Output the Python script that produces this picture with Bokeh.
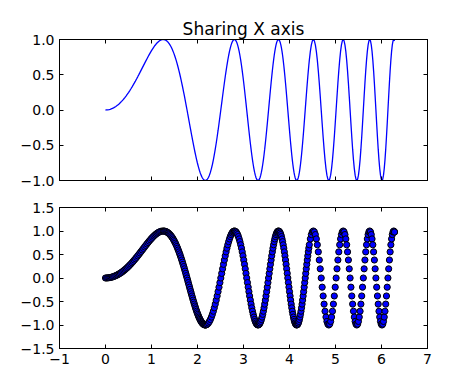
from bokeh.plotting import figure
from bokeh.models import Range1d, FixedTicker, LinearAxis, CustomJSTickFormatter
from bokeh.layouts import column
from bokeh.embed import file_html
from bokeh.resources import INLINE

title_text = "Sharing X axis"
x_ticks = [-1, 0, 1, 2, 3, 4, 5, 6, 7]
top_y_ticks = [-1.0, -0.5, 0.0, 0.5, 1.0]
bottom_y_ticks = [-1.5, -1.0, -0.5, 0.0, 0.5, 1.0, 1.5]

# values (a sin(x^2)-shaped curve), in stretches
x_slow = [
    0.0, 0.025, 0.05, 0.075, 0.10, 0.125, 0.15, 0.175, 0.20, 0.225, 0.25, 0.275,
    0.30, 0.325, 0.35, 0.375, 0.40, 0.425, 0.45, 0.475, 0.50, 0.525, 0.55, 0.575,
    0.60, 0.625, 0.65, 0.675, 0.70, 0.725, 0.75, 0.775, 0.80, 0.825, 0.85, 0.875,
    0.90, 0.925, 0.95, 0.975, 1.00, 1.025, 1.05, 1.075, 1.10, 1.125, 1.15, 1.175,
    1.20, 1.225,
]
y_slow = [
    0.0, 0.0006, 0.0025, 0.0056, 0.0100, 0.0156, 0.0225, 0.0306, 0.0400, 0.0506,
    0.0625, 0.0756, 0.0899, 0.1054, 0.1222, 0.1402, 0.1593, 0.1796, 0.2011, 0.2237,
    0.2474, 0.2722, 0.2979, 0.3246, 0.3523, 0.3808, 0.4101, 0.4400, 0.4706, 0.5018,
    0.5333, 0.5652, 0.5972, 0.6293, 0.6613, 0.6930, 0.7243, 0.7550, 0.7849, 0.8138,
    0.8415, 0.8677, 0.8923, 0.9150, 0.9356, 0.9538, 0.9694, 0.9820, 0.9915, 0.9975,
]

x_first_dip = [
    1.2533, 1.2727, 1.2919, 1.3107, 1.3293, 1.3477, 1.3658, 1.3836,
    1.4012, 1.4187, 1.4359, 1.4529, 1.4696, 1.4863, 1.5027, 1.5189,
    1.5350, 1.5509, 1.5666, 1.5822, 1.5977, 1.6130, 1.6281, 1.6431,
    1.6580, 1.6727, 1.6873, 1.7018, 1.7162, 1.7304, 1.7445, 1.7586,
    1.7725, 1.7862, 1.7999, 1.8135, 1.8270, 1.8404, 1.8537, 1.8669,
    1.8800, 1.8930, 1.9059, 1.9187, 1.9315, 1.9442, 1.9567, 1.9693,
    1.9817, 1.9940, 2.0063, 2.0185, 2.0306, 2.0427, 2.0546, 2.0665,
    2.0784, 2.0902, 2.1019, 2.1135, 2.1251, 2.1366, 2.1481, 2.1595,
    2.1708, 2.1821,
]
y_first_dip = [
    1.0, 0.9988, 0.9952, 0.9892, 0.9808, 0.9700, 0.9569, 0.9415,
    0.9239, 0.9040, 0.8819, 0.8577, 0.8315, 0.8032, 0.7730, 0.7410,
    0.7071, 0.6716, 0.6344, 0.5957, 0.5556, 0.5141, 0.4714, 0.4276,
    0.3827, 0.3369, 0.2903, 0.2430, 0.1951, 0.1467, 0.0980, 0.0491,
    0.0, -0.0491, -0.0980, -0.1467, -0.1951, -0.2430, -0.2903, -0.3369,
    -0.3827, -0.4276, -0.4714, -0.5141, -0.5556, -0.5957, -0.6344, -0.6716,
    -0.7071, -0.7410, -0.7730, -0.8032, -0.8315, -0.8577, -0.8819, -0.9040,
    -0.9239, -0.9415, -0.9569, -0.9700, -0.9808, -0.9892, -0.9952, -0.9988,
    -1.0, -0.9988,
]

x_mid = [
    2.1933, 2.2156, 2.2376, 2.2594, 2.2811, 2.3025, 2.3237,
    2.3447, 2.3656, 2.3862, 2.4067, 2.4270, 2.4472, 2.4672, 2.4870,
    2.5066, 2.5261, 2.5455, 2.5647, 2.5838, 2.6027, 2.6215, 2.6402,
    2.6587, 2.6771, 2.6953, 2.7135, 2.7315, 2.7495, 2.7672, 2.7849,
    2.8025, 2.8200, 2.8373, 2.8545, 2.8717, 2.8887, 2.9057, 2.9225,
    2.9393, 2.9559, 2.9725, 2.9890, 3.0053, 3.0216, 3.0378, 3.0540,
    3.0700, 3.0859, 3.1018, 3.1176, 3.1333, 3.1489, 3.1645, 3.1799,
    3.1953, 3.2107, 3.2259, 3.2411, 3.2562, 3.2713, 3.2862, 3.3011,
    3.3160, 3.3307, 3.3454, 3.3601, 3.3747, 3.3892, 3.4036, 3.4180,
    3.4324, 3.4466, 3.4608, 3.4750, 3.4891, 3.5031, 3.5171, 3.5310,
    3.5449, 3.5587, 3.5725, 3.5862, 3.5999, 3.6135, 3.6270, 3.6406,
    3.6540, 3.6674, 3.6808, 3.6941, 3.7073, 3.7206, 3.7337, 3.7469,
    3.7599, 3.7730, 3.7859, 3.7989, 3.8118, 3.8247, 3.8374, 3.8503,
    3.8629, 3.8757, 3.8883, 3.9009, 3.9134, 3.9260, 3.9385, 3.9509,
    3.9633, 3.9757, 3.9880, 4.0003, 4.0126, 4.0248, 4.0370, 4.0491,
    4.0612, 4.0733, 4.0853, 4.0973, 4.1093, 4.1212, 4.1331, 4.1450,
    4.1568, 4.1686, 4.1803, 4.1921, 4.2037, 4.2154, 4.2270, 4.2387,
    4.2502, 4.2618, 4.2732, 4.2847, 4.2961, 4.3076, 4.3189, 4.3303,
    4.3416, 4.3529, 4.3642, 4.3754, 4.3866, 4.3978, 4.4089, 4.4201,
]
y_mid = [
    -0.9952, -0.9808, -0.9569, -0.9239, -0.8819, -0.8315, -0.7730,
    -0.7071, -0.6344, -0.5556, -0.4714, -0.3827, -0.2903, -0.1951, -0.0980,
    0.0, 0.0980, 0.1951, 0.2903, 0.3827, 0.4714, 0.5556, 0.6344,
    0.7071, 0.7730, 0.8315, 0.8819, 0.9239, 0.9569, 0.9808, 0.9952,
    1.0, 0.9952, 0.9808, 0.9569, 0.9239, 0.8819, 0.8315, 0.7730,
    0.7071, 0.6344, 0.5556, 0.4714, 0.3827, 0.2903, 0.1951, 0.0980,
    0.0, -0.0980, -0.1951, -0.2903, -0.3827, -0.4714, -0.5556, -0.6344,
    -0.7071, -0.7730, -0.8315, -0.8819, -0.9239, -0.9569, -0.9808, -0.9952,
    -1.0, -0.9952, -0.9808, -0.9569, -0.9239, -0.8819, -0.8315, -0.7730,
    -0.7071, -0.6344, -0.5556, -0.4714, -0.3827, -0.2903, -0.1951, -0.0980,
    0.0, 0.0980, 0.1951, 0.2903, 0.3827, 0.4714, 0.5556, 0.6344,
    0.7071, 0.7730, 0.8315, 0.8819, 0.9239, 0.9569, 0.9808, 0.9952,
    1.0, 0.9952, 0.9808, 0.9569, 0.9239, 0.8819, 0.8315, 0.7730,
    0.7071, 0.6344, 0.5556, 0.4714, 0.3827, 0.2903, 0.1951, 0.0980,
    0.0, -0.0980, -0.1951, -0.2903, -0.3827, -0.4714, -0.5556, -0.6344,
    -0.7071, -0.7730, -0.8315, -0.8819, -0.9239, -0.9569, -0.9808, -0.9952,
    -1.0, -0.9952, -0.9808, -0.9569, -0.9239, -0.8819, -0.8315, -0.7730,
    -0.7071, -0.6344, -0.5556, -0.4714, -0.3827, -0.2903, -0.1951, -0.0980,
    0.0, 0.0980, 0.1951, 0.2903, 0.3827, 0.4714, 0.5556, 0.6344,
]

x_fast = [
    4.4311, 4.4532, 4.4752, 4.4971,
    4.5189, 4.5405, 4.5621, 4.5836, 4.6050, 4.6262, 4.6474, 4.6685,
    4.6895, 4.7104, 4.7312, 4.7519, 4.7725, 4.7930, 4.8134, 4.8338,
    4.8540, 4.8742, 4.8943, 4.9143, 4.9343, 4.9541, 4.9739, 4.9936,
    5.0132, 5.0328, 5.0522, 5.0716, 5.0910, 5.1102, 5.1294, 5.1485,
    5.1675, 5.1865, 5.2054, 5.2242, 5.2430, 5.2617, 5.2803, 5.2989,
    5.3174, 5.3358, 5.3542, 5.3725, 5.3907, 5.4089, 5.4270, 5.4451,
    5.4631, 5.4810, 5.4989, 5.5167, 5.5345, 5.5522, 5.5699, 5.5875,
    5.6050, 5.6225, 5.6399, 5.6573, 5.6747, 5.6919, 5.7091, 5.7263,
    5.7434, 5.7605, 5.7775, 5.7945, 5.8114, 5.8283, 5.8451, 5.8618,
    5.8786, 5.8952, 5.9119, 5.9285, 5.9450, 5.9615, 5.9780, 5.9944,
    6.0107, 6.0270, 6.0433, 6.0595, 6.0757, 6.0918, 6.1079, 6.1240,
    6.1400, 6.1560, 6.1719, 6.1878, 6.2036, 6.2194, 6.2352, 6.2509,
    6.2666, 6.2822, 6.2832,
]
y_fast = [
    0.7071, 0.8315, 0.9239, 0.9808,
    1.0, 0.9808, 0.9239, 0.8315, 0.7071, 0.5556, 0.3827, 0.1951,
    0.0, -0.1951, -0.3827, -0.5556, -0.7071, -0.8315, -0.9239, -0.9808,
    -1.0, -0.9808, -0.9239, -0.8315, -0.7071, -0.5556, -0.3827, -0.1951,
    0.0, 0.1951, 0.3827, 0.5556, 0.7071, 0.8315, 0.9239, 0.9808,
    1.0, 0.9808, 0.9239, 0.8315, 0.7071, 0.5556, 0.3827, 0.1951,
    0.0, -0.1951, -0.3827, -0.5556, -0.7071, -0.8315, -0.9239, -0.9808,
    -1.0, -0.9808, -0.9239, -0.8315, -0.7071, -0.5556, -0.3827, -0.1951,
    0.0, 0.1951, 0.3827, 0.5556, 0.7071, 0.8315, 0.9239, 0.9808,
    1.0, 0.9808, 0.9239, 0.8315, 0.7071, 0.5556, 0.3827, 0.1951,
    0.0, -0.1951, -0.3827, -0.5556, -0.7071, -0.8315, -0.9239, -0.9808,
    -1.0, -0.9808, -0.9239, -0.8315, -0.7071, -0.5556, -0.3827, -0.1951,
    0.0, 0.1951, 0.3827, 0.5556, 0.7071, 0.8315, 0.9239, 0.9808,
    1.0, 0.9808, 0.9783,
]

x_vals = x_slow + x_first_dip + x_mid + x_fast
y_vals = y_slow + y_first_dip + y_mid + y_fast

FONT = "DejaVu Sans"
TICK_SIZE = "14px"

fmt_y = CustomJSTickFormatter(code="return tick.toFixed(1).replace('-', '\u2212');")
fmt_x = CustomJSTickFormatter(code="return tick.toFixed(0).replace('-', '\u2212');")


def style_axis(ax, ticks, fmt, show_labels):
    ax.ticker = FixedTicker(ticks=ticks)
    ax.formatter = fmt
    ax.major_tick_in = 4
    ax.major_tick_out = 0
    ax.minor_tick_line_color = None
    ax.axis_line_color = "black"
    ax.major_tick_line_color = "black"
    ax.major_label_text_font = FONT
    ax.major_label_standoff = 5
    if show_labels:
        ax.major_label_text_font_size = TICK_SIZE
        ax.major_label_text_color = "black"
    else:
        ax.major_label_text_font_size = "0px"
        ax.major_label_text_color = None
        ax.major_label_standoff = 0


def make_fig(height, yr, yticks, show_x_labels, top, bottom):
    p = figure(width=474, height=height, x_range=Range1d(-1, 7), y_range=Range1d(*yr),
               output_backend="svg", toolbar_location=None,
               min_border_left=59, min_border_right=47,
               min_border_top=top, min_border_bottom=bottom)
    p.grid.visible = False
    p.outline_line_color = "black"
    p.outline_line_width = 1
    p.background_fill_color = "white"
    p.border_fill_color = "white"
    style_axis(p.xaxis[0], x_ticks, fmt_x, show_x_labels)
    style_axis(p.yaxis[0], yticks, fmt_y, True)
    ra = LinearAxis()
    style_axis(ra, yticks, fmt_y, False)
    p.add_layout(ra, "right")
    ta = LinearAxis()
    style_axis(ta, x_ticks, fmt_x, False)
    p.add_layout(ta, "above")
    return p


p1 = make_fig(193, (-1, 1), top_y_ticks, False, 39, 13)
p1.title.text = title_text
p1.title.align = "center"
p1.title.text_font = FONT
p1.title.text_font_size = "17px"
p1.title.text_font_style = "normal"
p1.title.text_color = "black"
p1.title.standoff = 2
p1.line(x_vals, y_vals, line_color="#0000ff", line_width=1.3)

p2 = make_fig(194, (-1.5, 1.5), bottom_y_ticks, True, 14, 39)
p2.scatter(x_vals, y_vals, size=6.2, fill_color="#0000ff", line_color="black", line_width=1.0)

layout = column(p1, p2, spacing=0)
open("out.html", "w").write(file_html(layout, INLINE))
